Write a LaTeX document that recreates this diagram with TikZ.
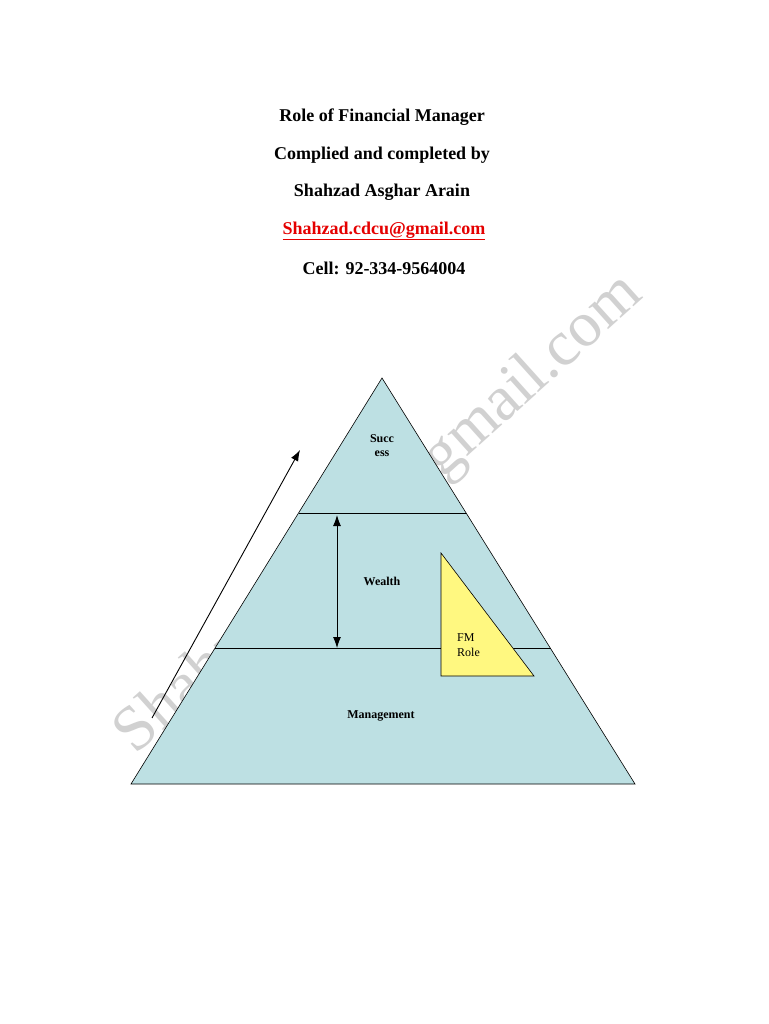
\documentclass[tikz,border=0pt]{standalone}
\usepackage{fontspec}
\setmainfont{Liberation Serif}
\usetikzlibrary{arrows.meta}
\definecolor{pyr}{HTML}{BDE0E3}
\begin{document}
\begin{tikzpicture}[x=1pt,y=-1pt,
  ttl/.style={font=\fontsize{18}{20}\selectfont\bfseries,inner sep=0},
  lbl/.style={font=\fontsize{12}{14}\selectfont\bfseries,inner sep=0,align=center},
  fill1/.style={fill=pyr,draw=black,line width=0.6pt},
  arr/.style={-{Latex[length=11pt,width=8pt]},line width=0.9pt}]
\useasboundingbox (0,0) rectangle (768,1024);
\fill[white] (0,0) rectangle (768,1024);
\node[ttl] (t1) at (382,117) {Role of Financial Manager};
\node[ttl] (t2) at (382,155) {Complied and completed by};
\node[ttl] (t3) at (382,192) {Shahzad Asghar Arain};
\node[ttl,text=red!90!black] (t4) at (384,231) {\underline{Shahzad.cdcu@gmail.com}};
\node[ttl] (t5) at (384,268) {Cell: 92-334-9564004};
\node[rotate=42,text=black!18,font=\fontsize{64}{70}\selectfont,inner sep=0] (wm) at (380,515) {Shahzad.cdcu@gmail.com};
\coordinate (A) at (382,378); \coordinate (B) at (131,784); \coordinate (C) at (635,784);
\fill[fill1] (A) -- (C) -- (B) -- cycle;
\coordinate (l1) at (298.5,513); \coordinate (r1) at (466,513);
\coordinate (l2) at (215,648); \coordinate (r2) at (551,648);
\draw[line width=0.6pt] (l1) -- (r1);
\draw[line width=0.6pt] (l2) -- (r2);
\coordinate (y1) at (441,553); \coordinate (y2) at (441,676); \coordinate (y3) at (534,676);
\filldraw[fill=yellow!50,draw=black,line width=0.6pt] (y1) -- (y2) -- (y3) -- cycle;
\node[font=\fontsize{12}{15}\selectfont,align=left,anchor=west,inner sep=0] (fm) at (457,645) {FM\\Role};
\node[lbl] (s) at (382,446) {Succ\\ess};
\node[lbl] (w) at (382,581) {Wealth};
\node[lbl] (m) at (381,716) {Management};
\coordinate (d1) at (337,515); \coordinate (d2) at (337,648);
\draw[arr,{Latex[length=11pt,width=8pt]}-{Latex[length=11pt,width=8pt]}] (d1) -- (d2);
\coordinate (a1) at (152,718); \coordinate (a2) at (300,450);
\draw[arr] (a1) -- (a2);
\end{tikzpicture}
\end{document}
